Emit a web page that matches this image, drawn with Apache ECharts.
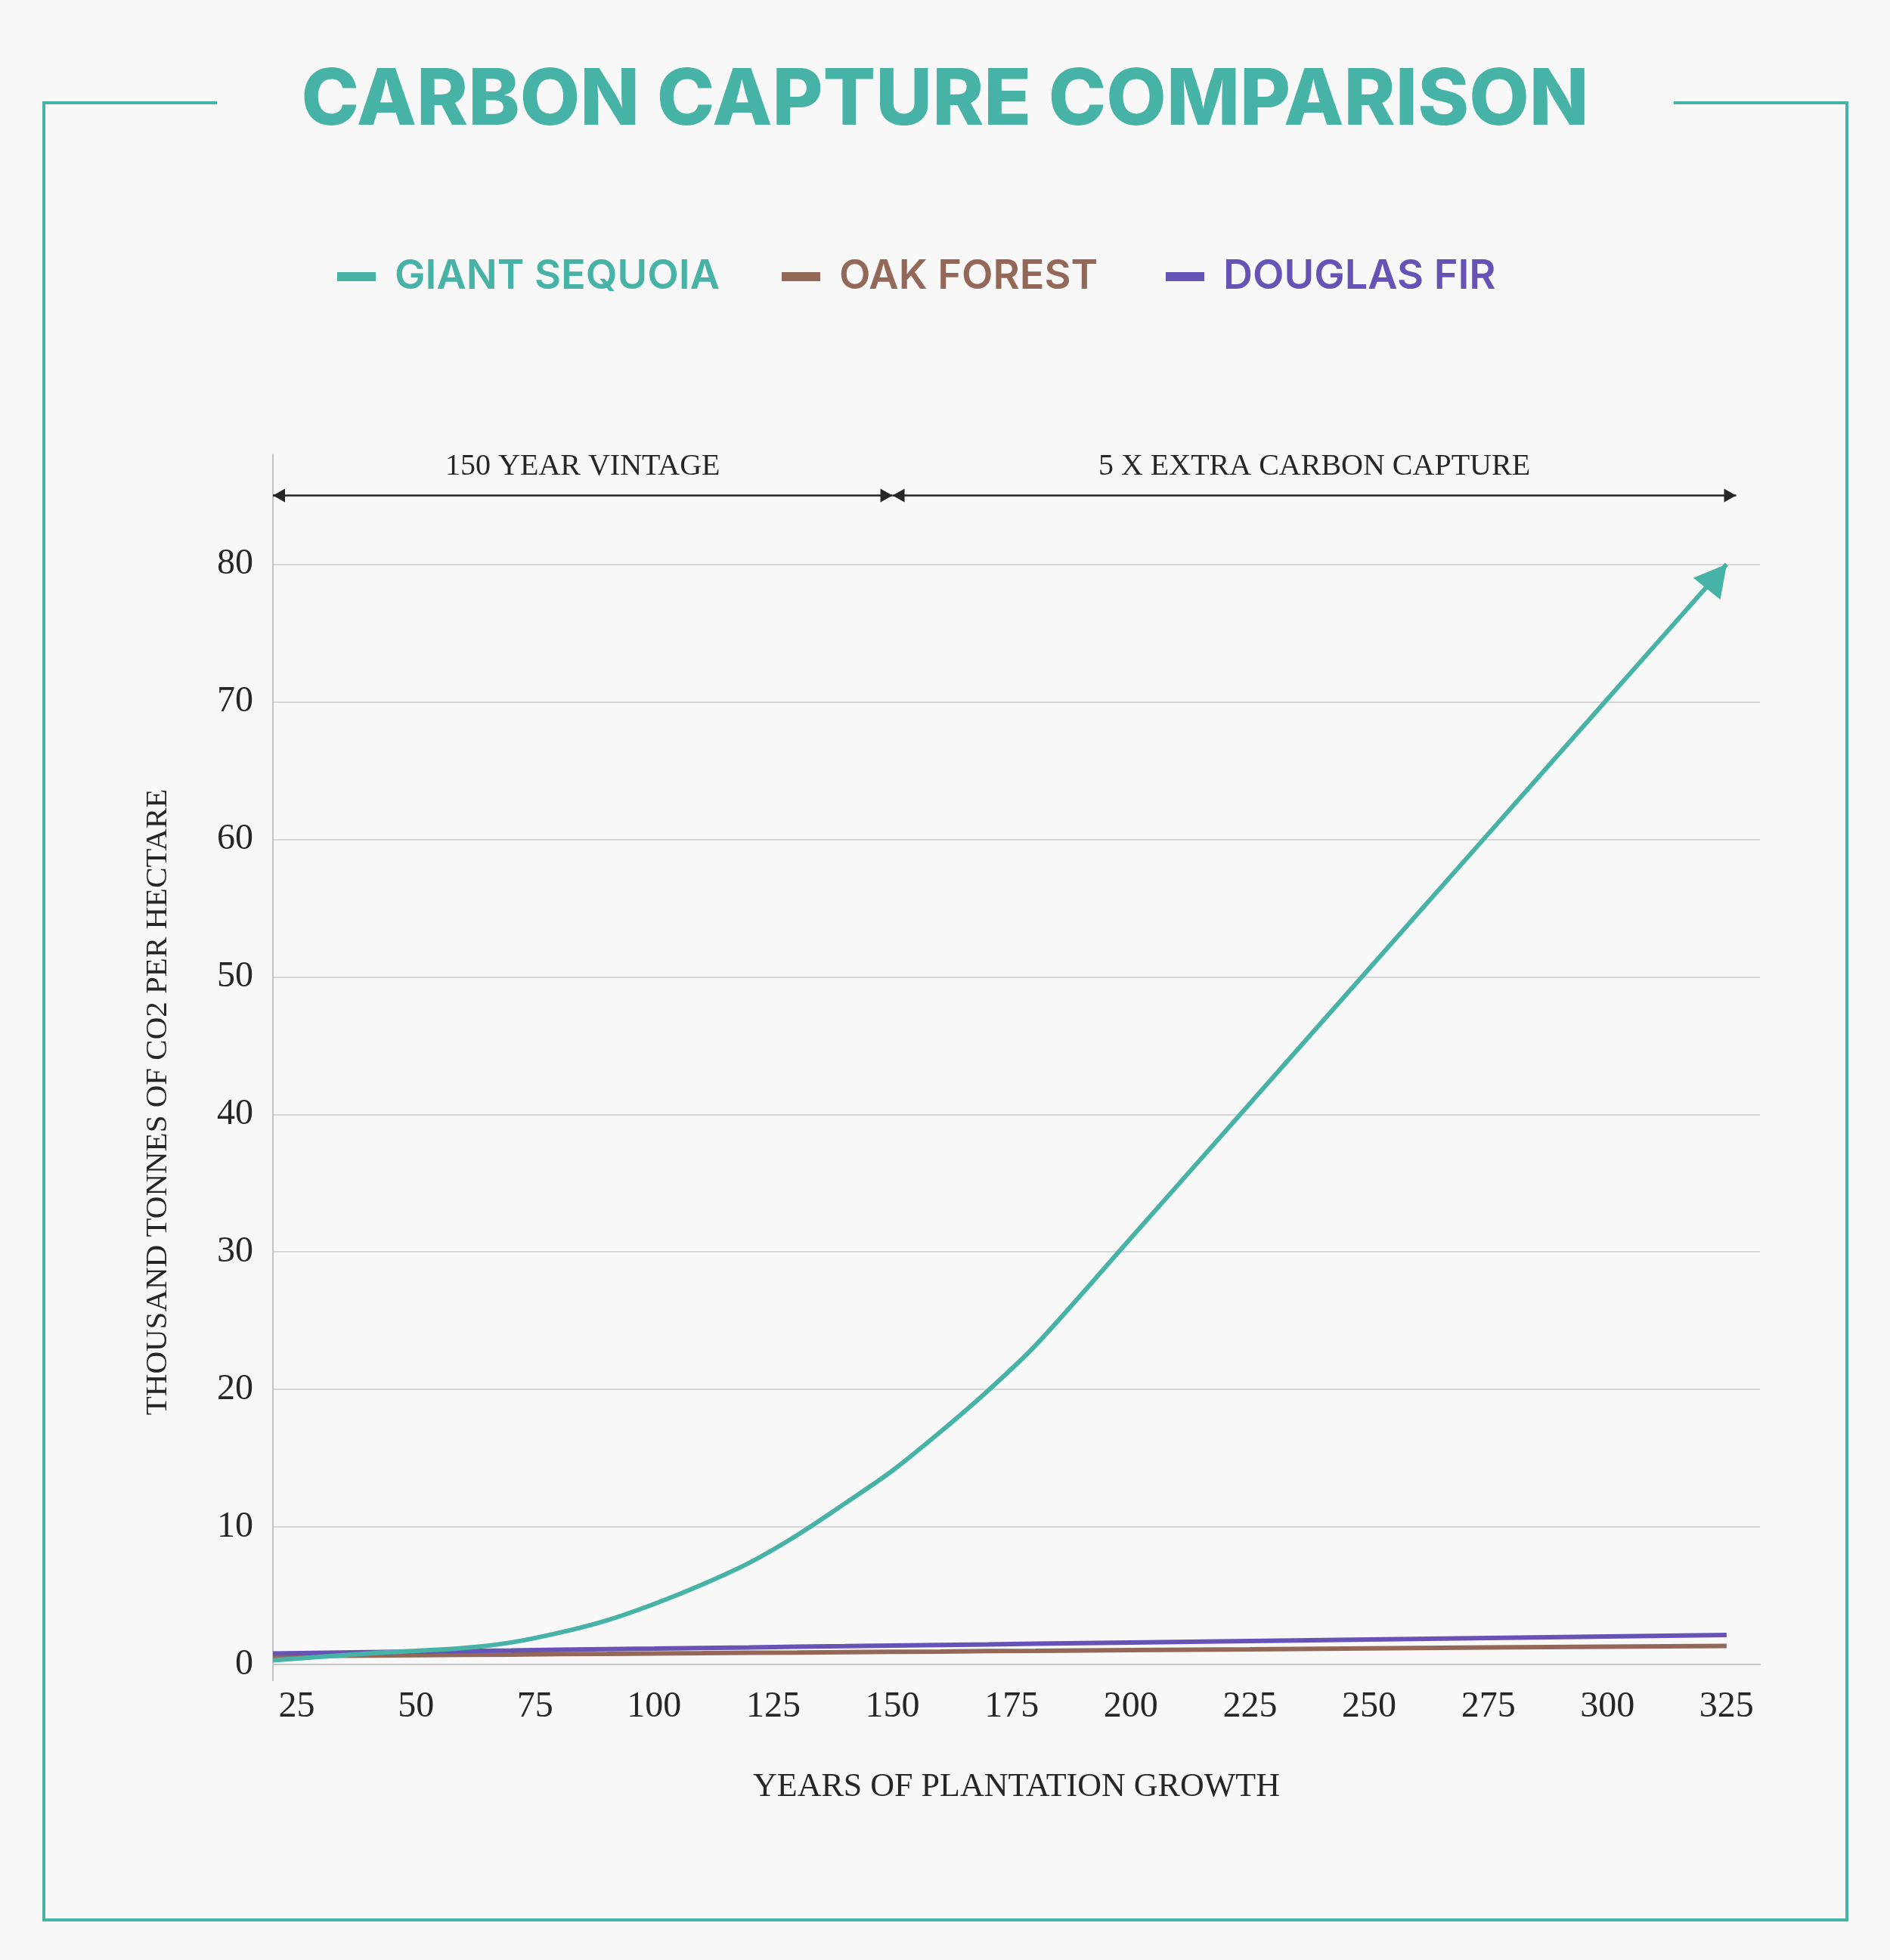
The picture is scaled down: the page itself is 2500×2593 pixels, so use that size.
<!DOCTYPE html>
<html>
<head>
<meta charset="utf-8">
<title>Carbon Capture Comparison</title>
<script src="https://cdn.jsdelivr.net/npm/echarts@6/dist/echarts.min.js"></script>
<style>
  html, body { margin: 0; padding: 0; background: #f8f8f8; }
  #chart { width: 2500px; height: 2593px; }
</style>
</head>
<body>
<div id="chart"></div>
<script>
// values
const years = [20, 40, 60, 70, 80, 90, 100, 110, 120, 130, 140, 150, 160, 170, 180, 200, 225, 250, 275, 300, 325];
const giantSequoia = [0.3, 0.8, 1.2, 1.6, 2.3, 3.2, 4.4, 5.8, 7.4, 9.4, 11.7, 14.1, 16.9, 19.9, 23.2, 31.0, 40.8, 50.6, 60.4, 70.2, 80];
const oakForest = [0.60, 0.65, 0.70, 0.72, 0.75, 0.77, 0.80, 0.82, 0.85, 0.87, 0.90, 0.92, 0.94, 0.97, 0.99, 1.04, 1.10, 1.17, 1.23, 1.29, 1.35];
const douglasFir = [0.80, 0.89, 0.98, 1.02, 1.07, 1.11, 1.15, 1.20, 1.24, 1.29, 1.33, 1.38, 1.42, 1.46, 1.51, 1.60, 1.71, 1.82, 1.93, 2.04, 2.15];

const xTicks = [25, 50, 75, 100, 125, 150, 175, 200, 225, 250, 275, 300, 325];
const yTicks = [0, 10, 20, 30, 40, 50, 60, 70, 80];

// span annotations above the plot
const spanNames = ['150 YEAR VINTAGE', '5 X EXTRA CARBON CAPTURE'];
const spanBreaks = [20, 150, 327];
const spanLevel = 85;

const TEAL = '#47b3a7';
const BROWN = '#946858';
const PURPLE = '#6753b6';
const INK = '#262626';
const SERIF = '"Liberation Serif", "DejaVu Serif", serif';

const chart = echarts.init(document.getElementById('chart'));

const pairs = (vals) => years.map((y, i) => [y, vals[i]]);

// last point of the sequoia line carries the arrow head
const sequoiaData = pairs(giantSequoia);
sequoiaData[sequoiaData.length - 1] = {
  value: sequoiaData[sequoiaData.length - 1],
  symbol: 'triangle',
  symbolSize: [46, 42],
  symbolRotate: -39,
  symbolOffset: [-13, 16],
  itemStyle: { color: TEAL }
};

const spanLines = spanNames.map((name, i) => [
  { coord: [spanBreaks[i], spanLevel], name: name },
  { coord: [spanBreaks[i + 1], spanLevel] }
]);

const legendCommon = {
  top: 334,
  icon: 'rect',
  itemWidth: 51,
  itemHeight: 12,
  selectedMode: false,
  itemStyle: { borderWidth: 0 },
  textStyle: {
    fontFamily: 'Inter, "Noto Sans", sans-serif',
    fontWeight: 600,
    fontSize: 54,
    padding: [0, 0, 0, 20]
  }
};

const option = {
  backgroundColor: '#f8f8f8',
  animation: false,
  title: {
    text: 'CARBON CAPTURE COMPARISON',
    left: 'center',
    top: 78,
    textStyle: {
      fontFamily: 'Inter, "Noto Sans", sans-serif',
      fontWeight: 800,
      fontSize: 103,
      color: TEAL
    }
  },
  legend: [
    Object.assign({ left: 441, data: [{ name: 'GIANT SEQUOIA', textStyle: { color: TEAL } }] }, legendCommon),
    Object.assign({ left: 1029, data: [{ name: 'OAK FOREST', textStyle: { color: BROWN } }] }, legendCommon),
    Object.assign({ left: 1537, data: [{ name: 'DOUGLAS FIR', textStyle: { color: PURPLE } }] }, legendCommon)
  ],
  graphic: [
    {
      type: 'polyline',
      silent: true,
      shape: { points: [[287, 136], [58, 136], [58, 2540], [2443, 2540], [2443, 136], [2214, 136]] },
      style: { stroke: TEAL, lineWidth: 4, fill: null }
    }
  ],
  grid: { left: 361, right: 172, top: 601, bottom: 391 },
  xAxis: {
    type: 'value',
    min: 20,
    max: 332,
    name: 'YEARS OF PLANTATION GROWTH',
    nameLocation: 'middle',
    nameGap: 140,
    nameTextStyle: { fontFamily: SERIF, fontSize: 44, color: INK },
    axisLine: { show: true, lineStyle: { color: '#c4c4c4', width: 2 } },
    axisTick: { show: true, customValues: [20], length: 22, lineStyle: { color: '#c4c4c4', width: 2 } },
    axisLabel: { customValues: xTicks, margin: 32, fontFamily: SERIF, fontSize: 48, color: INK },
    splitLine: { show: false }
  },
  yAxis: {
    type: 'value',
    min: 0,
    max: 88,
    name: 'THOUSAND TONNES OF CO2 PER HECTARE',
    nameLocation: 'middle',
    nameGap: 131,
    nameTextStyle: { fontFamily: SERIF, fontSize: 41, color: INK, padding: [0, 113, 0, 0] },
    axisLine: { show: true, lineStyle: { color: '#c4c4c4', width: 2 } },
    axisTick: { show: false, customValues: yTicks },
    axisLabel: { customValues: yTicks, margin: 26, fontFamily: SERIF, fontSize: 48, color: INK },
    splitLine: { show: true, lineStyle: { color: '#d6d6d6', width: 2 } }
  },
  series: [
    {
      name: 'OAK FOREST',
      type: 'line',
      z: 2,
      data: pairs(oakForest),
      showSymbol: false,
      lineStyle: { color: BROWN, width: 6 },
      itemStyle: { color: BROWN }
    },
    {
      name: 'DOUGLAS FIR',
      type: 'line',
      z: 3,
      data: pairs(douglasFir),
      showSymbol: false,
      lineStyle: { color: PURPLE, width: 6 },
      itemStyle: { color: PURPLE }
    },
    {
      name: 'GIANT SEQUOIA',
      type: 'line',
      z: 4,
      data: sequoiaData,
      symbol: 'none',
      smooth: 0.3,
      lineStyle: { color: TEAL, width: 6 },
      itemStyle: { color: TEAL },
      markLine: {
        silent: true,
        symbol: ['triangle', 'triangle'],
        symbolSize: [18, 16],
        symbolOffset: [[0, 8], [0, 8]],
        lineStyle: { color: INK, width: 2.5, type: 'solid' },
        itemStyle: { color: INK },
        label: {
          show: true,
          position: 'middle',
          formatter: '{b}',
          distance: 18,
          fontFamily: SERIF,
          fontSize: 40,
          color: INK
        },
        emphasis: { disabled: true },
        data: spanLines
      }
    }
  ]
};

chart.setOption(option);
window.addEventListener('resize', () => chart.resize());
</script>
</body>
</html>
